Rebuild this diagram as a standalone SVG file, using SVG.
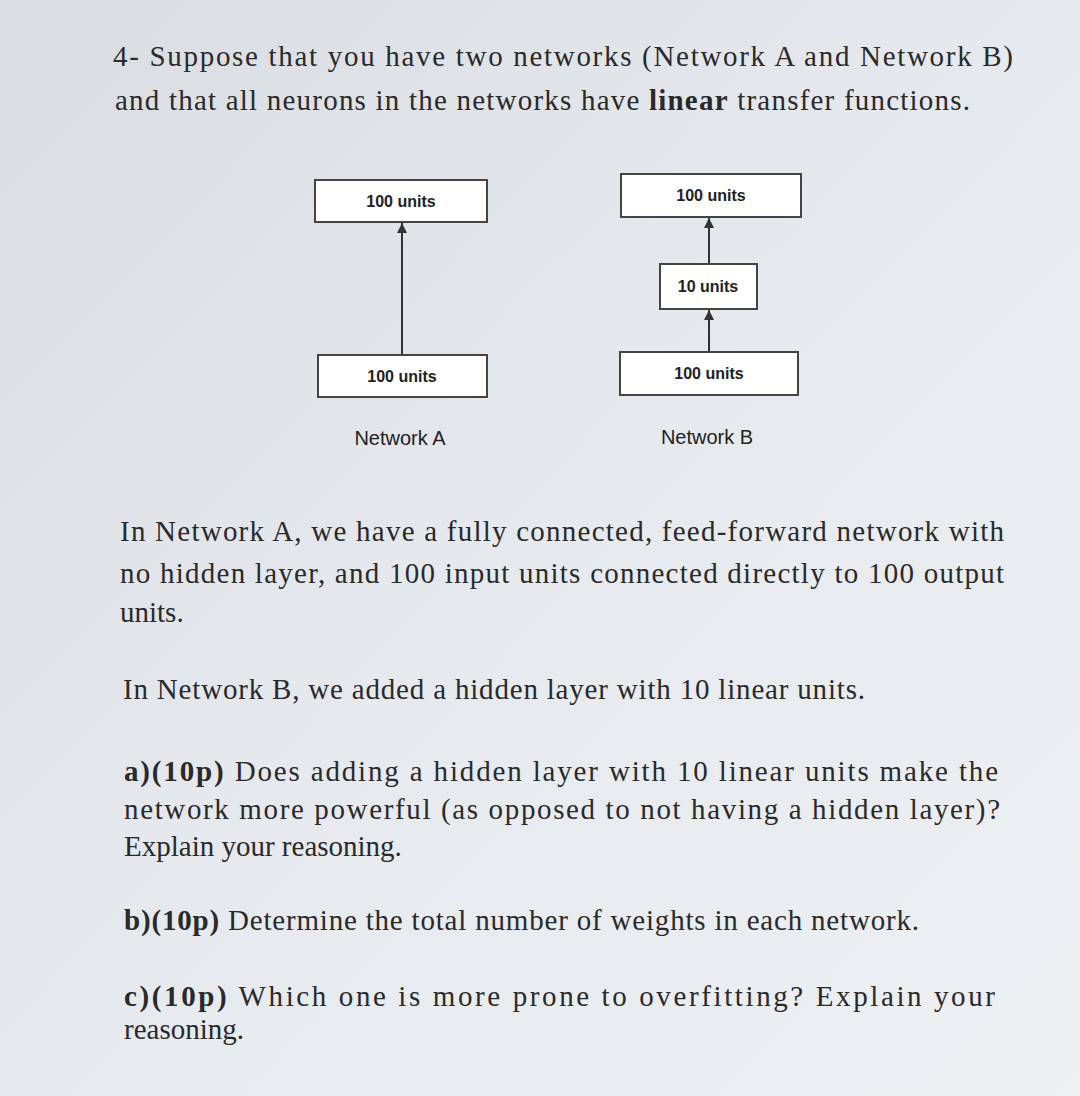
<svg xmlns="http://www.w3.org/2000/svg" width="1080" height="1096" viewBox="0 0 1080 1096">
<defs>
<linearGradient id="bg" x1="0" y1="0" x2="1" y2="1">
<stop offset="0" stop-color="#d9dde2"/><stop offset="0.5" stop-color="#e6eaee"/><stop offset="1" stop-color="#eef0f2"/>
</linearGradient>
<marker id="ah" viewBox="0 0 10 10" refX="10" refY="5" markerWidth="12" markerHeight="10" orient="auto" markerUnits="userSpaceOnUse">
<path d="M0,0 L10,5 L0,10 Z" fill="#333"/>
</marker>
<style>
.box{fill:#fff;stroke:#444;stroke-width:2}
.bl{font-family:"Liberation Sans",Arial,sans-serif;font-size:16px;fill:#222;text-anchor:middle;font-weight:bold}
.nl{font-family:"Liberation Sans",Arial,sans-serif;font-size:20px;fill:#222;text-anchor:middle}
.t{font-family:"Liberation Serif","Times New Roman",serif;font-size:29px;fill:#2a2a2a}
.c{stroke:#333;stroke-width:2;fill:none;marker-end:url(#ah)}
</style>
</defs>
<rect width="1080" height="1096" fill="url(#bg)"/>
<text class="t" x="113" y="66" textLength="900">4- Suppose that you have two networks (Network A and Network B)</text>
<text class="t" x="115" y="110" textLength="855">and that all neurons in the networks have <tspan font-weight="bold">linear</tspan> transfer functions.</text>
<g id="connectors">
<line class="c" x1="402" y1="355" x2="402" y2="223"/>
<line class="c" x1="709" y1="264" x2="709" y2="218"/>
<line class="c" x1="709" y1="352" x2="709" y2="310"/>
</g>
<g id="a_top"><rect class="box" x="315" y="180" width="172" height="42"/><text class="bl" x="401" y="207">100 units</text></g>
<g id="a_bottom"><rect class="box" x="318" y="355" width="169" height="42"/><text class="bl" x="402" y="382">100 units</text></g>
<g id="b_top"><rect class="box" x="621" y="174" width="180" height="43"/><text class="bl" x="711" y="201">100 units</text></g>
<g id="b_mid"><rect class="box" x="660" y="264" width="97" height="45"/><text class="bl" x="708" y="292">10 units</text></g>
<g id="b_bottom"><rect class="box" x="620" y="352" width="178" height="43"/><text class="bl" x="709" y="379">100 units</text></g>
<text class="nl" x="400" y="445">Network A</text>
<text class="nl" x="707" y="444">Network B</text>
<text class="t" x="120" y="541" textLength="884">In Network A, we have a fully connected, feed-forward network with</text>
<text class="t" x="120" y="583" textLength="884">no hidden layer, and 100 input units connected directly to 100 output</text>
<text class="t" x="120" y="622">units.</text>
<text class="t" x="123" y="699" textLength="742">In Network B, we added a hidden layer with 10 linear units.</text>
<text class="t" x="124" y="781" textLength="874"><tspan font-weight="bold">a)(10p)</tspan> Does adding a hidden layer with 10 linear units make the</text>
<text class="t" x="124" y="819" textLength="876">network more powerful (as opposed to not having a hidden layer)?</text>
<text class="t" x="124" y="856">Explain your reasoning.</text>
<text class="t" x="124" y="930" textLength="795"><tspan font-weight="bold">b)(10p)</tspan> Determine the total number of weights in each network.</text>
<text class="t" x="124" y="1006" textLength="871"><tspan font-weight="bold">c)(10p)</tspan> Which one is more prone to overfitting? Explain your</text>
<text class="t" x="124" y="1039">reasoning.</text>
</svg>
